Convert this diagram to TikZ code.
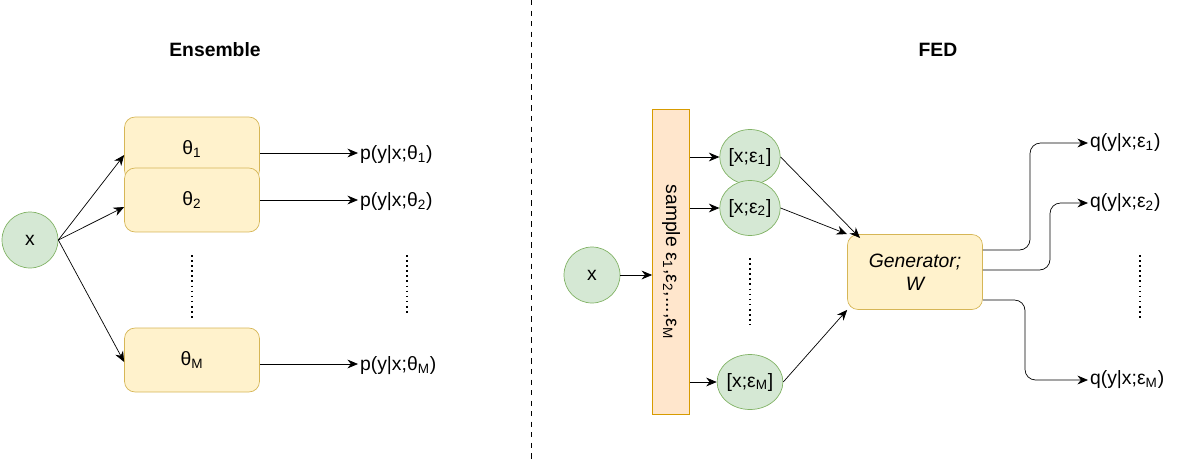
\documentclass[tikz,border=0pt]{standalone}
\usepackage{fontspec}
\setmainfont{Liberation Sans}
\usetikzlibrary{arrows.meta,positioning,shapes.geometric}
\definecolor{gfill}{HTML}{D5E8D4}
\definecolor{gline}{HTML}{82B366}
\definecolor{yfill}{HTML}{FFF2CC}
\definecolor{yline}{HTML}{D6B656}
\definecolor{ofill}{HTML}{FFE6CC}
\definecolor{oline}{HTML}{D79B00}
\newcommand{\sub}[1]{\textsubscript{#1}}
\begin{document}
\begin{tikzpicture}[
    x=0.02cm, y=-0.02cm,
    every node/.style={font=\fontsize{11}{13}\selectfont},
    inp/.style={draw=gline, fill=gfill, circle, minimum size=1.12cm, inner sep=0pt},
    pair/.style={draw=gline, fill=gfill, ellipse, minimum width=1.2cm, minimum height=1.1cm, inner sep=0pt},
    model/.style={draw=yline, fill=yfill, rounded corners=6pt, minimum width=2.7cm, minimum height=1.28cm},
    gen/.style={draw=yline, fill=yfill, rounded corners=6pt, minimum width=2.7cm, minimum height=1.5cm, align=center, font=\fontsize{11}{13}\selectfont\itshape},
    bar/.style={draw=oline, fill=ofill, minimum width=0.74cm, minimum height=6.1cm, inner sep=0pt},
    title/.style={font=\fontsize{11}{13}\selectfont\bfseries},
    prob/.style={anchor=west, inner sep=1pt},
    vdots/.style={dotted, line width=0.9pt},
    arrow/.style={-{Stealth[length=6pt,width=5pt]}, thin}
]
    \useasboundingbox (0,0) rectangle (1190,460);
    \draw[dashed] (531,0) -- (531,460);

    % Ensemble
    \node[title] (ens) at (215,50) {Ensemble};
    \node[inp] (x1) at (30,240) {x};
    \node[model] (t1) at (192,149) {θ\sub{1}};
    \node[model] (t2) at (192,200) {θ\sub{2}};
    \node[model] (tm) at (192,360) {θ\sub{M}};
    \coordinate (d1a) at (192,255); \coordinate (d1b) at (192,318);
    \draw[vdots] (d1a) -- (d1b);
    \node[prob] (p1) at (358,155) {p(y|x;θ\sub{1})};
    \node[prob] (p2) at (358,202) {p(y|x;θ\sub{2})};
    \node[prob] (pm) at (358,366) {p(y|x;θ\sub{M})};
    \coordinate (d2a) at (407,255); \coordinate (d2b) at (407,315);
    \draw[vdots] (d2a) -- (d2b);

    \draw[arrow] (x1.east) -- (t1.west |- 0,155);
    \draw[arrow] (x1.east) -- (t2.west |- 0,207);
    \draw[arrow] (x1.east) -- (tm.west |- 0,362);
    \draw[arrow] (t1.east |- 0,153) -- (p1.west |- 0,153);
    \draw[arrow] (t2.east |- 0,200) -- (p2.west |- 0,200);
    \draw[arrow] (tm.east |- 0,364) -- (pm.west |- 0,364);

    % FED
    \node[title] (fed) at (938,50) {FED};
    \node[inp] (x2) at (592,275) {x};
    \node[bar] (smp) at (671,262) {};
    \node[rotate=-90] (smpl) at (smp.center) {sample ε\sub{1},ε\sub{2},...,ε\sub{M}};
    \node[pair] (e1) at (750,157) {[x;ε\sub{1}]};
    \node[pair] (e2) at (750,208) {[x;ε\sub{2}]};
    \node[pair] (em) at (750,382) {[x;ε\sub{M}]};
    \coordinate (d3a) at (750,258); \coordinate (d3b) at (750,325);
    \draw[vdots] (d3a) -- (d3b);
    \node[gen] (g) at (915,272) {Generator;\\W};
    \node[prob] (q1) at (1088,143) {q(y|x;ε\sub{1})};
    \node[prob] (q2) at (1088,203) {q(y|x;ε\sub{2})};
    \node[prob] (qm) at (1088,380) {q(y|x;ε\sub{M})};
    \coordinate (d4a) at (1140,255); \coordinate (d4b) at (1140,320);
    \draw[vdots] (d4a) -- (d4b);

    \draw[arrow] (x2) -- (smp.west |- x2);
    \draw[arrow] (smp.east |- e1) -- (e1);
    \draw[arrow] (smp.east |- e2) -- (e2);
    \draw[arrow] (smp.east |- em) -- (em);
    \draw[arrow] (e1.east) -- (860,238);
    \draw[arrow] (e2.east) -- (g.north west);
    \draw[arrow] (em.east) -- (g.south west);
    \draw[arrow, rounded corners=6pt] (g.east |- 0,250) -| (1030,143) -- (q1.west);
    \draw[arrow, rounded corners=6pt] (g.east |- 0,270) -| (1050,203) -- (q2.west);
    \draw[arrow, rounded corners=6pt] (g.east |- 0,300) -| (1025,380) -- (qm.west);
\end{tikzpicture}
\end{document}
